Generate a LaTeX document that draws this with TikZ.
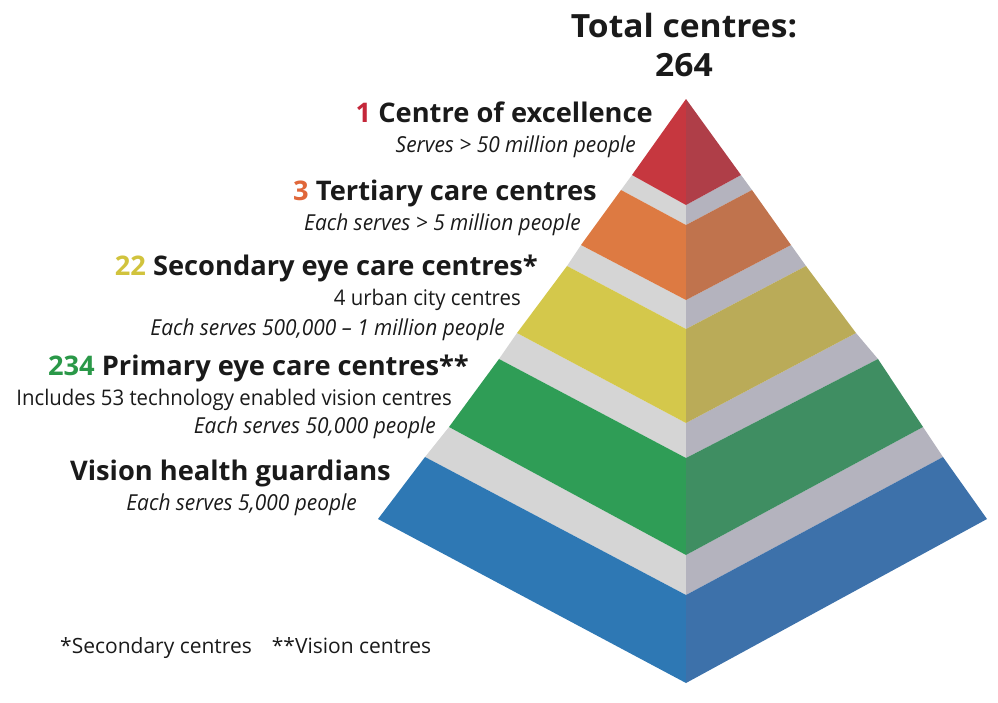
\documentclass[tikz,border=0pt]{standalone}
\usepackage{fontspec}
\setmainfont{Open Sans}
\newfontfamily\tbf[FakeStretch=1.05]{Open Sans}
\newfontfamily\hbf[FakeStretch=1.01]{Open Sans}
\newfontfamily\itf[FakeStretch=0.95]{Open Sans}
\newfontfamily\rgf[FakeStretch=0.948]{Open Sans}
\newfontfamily\fnf[FakeStretch=1.0]{Open Sans}
\definecolor{txt}{HTML}{1A1A1A}
\definecolor{redL}{HTML}{C6373F}\definecolor{redR}{HTML}{AF3E48}
\definecolor{orL}{HTML}{DD7A42}\definecolor{orR}{HTML}{C0734D}
\definecolor{yeL}{HTML}{D4C84B}\definecolor{yeR}{HTML}{BAAB58}
\definecolor{grL}{HTML}{2F9D56}\definecolor{grR}{HTML}{3F8E62}
\definecolor{blL}{HTML}{2E78B4}\definecolor{blR}{HTML}{3D71AA}
\definecolor{gyL}{HTML}{D5D5D5}\definecolor{gyR}{HTML}{B4B3BE}
\definecolor{numR}{HTML}{C4273A}\definecolor{numO}{HTML}{E0673A}
\definecolor{numY}{HTML}{D1C33D}\definecolor{numG}{HTML}{2A9848}
\tikzset{
  title/.style={anchor=base, inner sep=0pt, text=txt, font=\tbf\bfseries\fontsize{32}{35}\selectfont},
  head/.style={anchor=base east, inner sep=0pt, text=txt, font=\hbf\bfseries\fontsize{27}{30}\selectfont},
  sub/.style={anchor=base east, inner sep=0pt, text=txt, font=\itf\itshape\fontsize{22}{26}\selectfont},
  reg/.style={anchor=base east, inner sep=0pt, text=txt, font=\rgf\fontsize{21.5}{26}\selectfont},
  foot/.style={anchor=base west, inner sep=0pt, text=txt, font=\fnf\fontsize{21}{24}\selectfont}
}
\begin{document}
\begin{tikzpicture}[x=1pt,y=-1pt]
\useasboundingbox (0,0) rectangle (998,702);
% coordinates
\coordinate (A) at (686,99);
\coordinate (rBL) at (632,175); \coordinate (rBC) at (686,205); \coordinate (rBR) at (741,175);
\coordinate (oTL) at (621,190); \coordinate (oTC) at (686,225); \coordinate (oTR) at (752,190);
\coordinate (oBL) at (581,245); \coordinate (oBC) at (686,300); \coordinate (oBR) at (791,245);
\coordinate (yTL) at (567,266); \coordinate (yTC) at (686,329); \coordinate (yTR) at (806,266);
\coordinate (yBL) at (517,333); \coordinate (yBC) at (686,423); \coordinate (yBR) at (856,333);
\coordinate (gTL) at (499,359); \coordinate (gTC) at (686,458); \coordinate (gTR) at (878,359);
\coordinate (gBL) at (449,427); \coordinate (gBC) at (686,555); \coordinate (gBR) at (923,427);
\coordinate (bTL) at (425,457); \coordinate (bTC) at (686,595); \coordinate (bTR) at (943,457);
\coordinate (bBL) at (378,519); \coordinate (bBC) at (686,683); \coordinate (bBR) at (987,519);
% gray steps
\fill[gyL] (oTL) -- (rBL) -- (rBC) -- (oTC) -- cycle;
\fill[gyR] (rBC) -- (rBR) -- (oTR) -- (oTC) -- cycle;
\fill[gyL] (yTL) -- (oBL) -- (oBC) -- (yTC) -- cycle;
\fill[gyR] (oBC) -- (oBR) -- (yTR) -- (yTC) -- cycle;
\fill[gyL] (gTL) -- (yBL) -- (yBC) -- (gTC) -- cycle;
\fill[gyR] (yBC) -- (yBR) -- (gTR) -- (gTC) -- cycle;
\fill[gyL] (bTL) -- (gBL) -- (gBC) -- (bTC) -- cycle;
\fill[gyR] (gBC) -- (gBR) -- (bTR) -- (bTC) -- cycle;
% faces
\fill[redL] (A) -- (rBL) -- (rBC) -- cycle;
\fill[redR] (A) -- (rBC) -- (rBR) -- cycle;
\fill[orL] (oTL) -- (oTC) -- (oBC) -- (oBL) -- cycle;
\fill[orR] (oTC) -- (oTR) -- (oBR) -- (oBC) -- cycle;
\fill[yeL] (yTL) -- (yTC) -- (yBC) -- (yBL) -- cycle;
\fill[yeR] (yTC) -- (yTR) -- (yBR) -- (yBC) -- cycle;
\fill[grL] (gTL) -- (gTC) -- (gBC) -- (gBL) -- cycle;
\fill[grR] (gTC) -- (gTR) -- (gBR) -- (gBC) -- cycle;
\fill[blL] (bTL) -- (bTC) -- (bBC) -- (bBL) -- cycle;
\fill[blR] (bTC) -- (bTR) -- (bBR) -- (bBC) -- cycle;
% title
\node[title] (t1) at (684,37) {Total centres:};
\node[title] (t2) at (684,76) {264};
% labels
\node[head] (h1) at (653,122) {\textcolor{numR}{1} Centre of excellence};
\node[sub] (s1) at (636,152) {Serves > 50 million people};
\node[head] (h2) at (597,200) {\textcolor{numO}{3} Tertiary care centres};
\node[sub] (s2) at (581,230) {Each serves > 5 million people};
\node[head] (h3) at (538,275) {\textcolor{numY}{22} Secondary eye care centres*};
\node[reg] (r3) at (521,305) {4 urban city centres};
\node[sub] (s3) at (505,335) {Each serves 500,000 – 1 million people};
\node[head] (h4) at (469,375) {\textcolor{numG}{234} Primary eye care centres**};
\node[reg] (r4) at (452,405) {Includes 53 technology enabled vision centres};
\node[sub] (s4) at (436,433) {Each serves 50,000 people};
\node[head] (h5) at (391,480) {Vision health guardians};
\node[sub] (s5) at (357,510) {Each serves 5,000 people};
\node[foot] (fn) at (60,653) {*Secondary centres\hspace{20pt}**Vision centres};
\end{tikzpicture}
\end{document}
